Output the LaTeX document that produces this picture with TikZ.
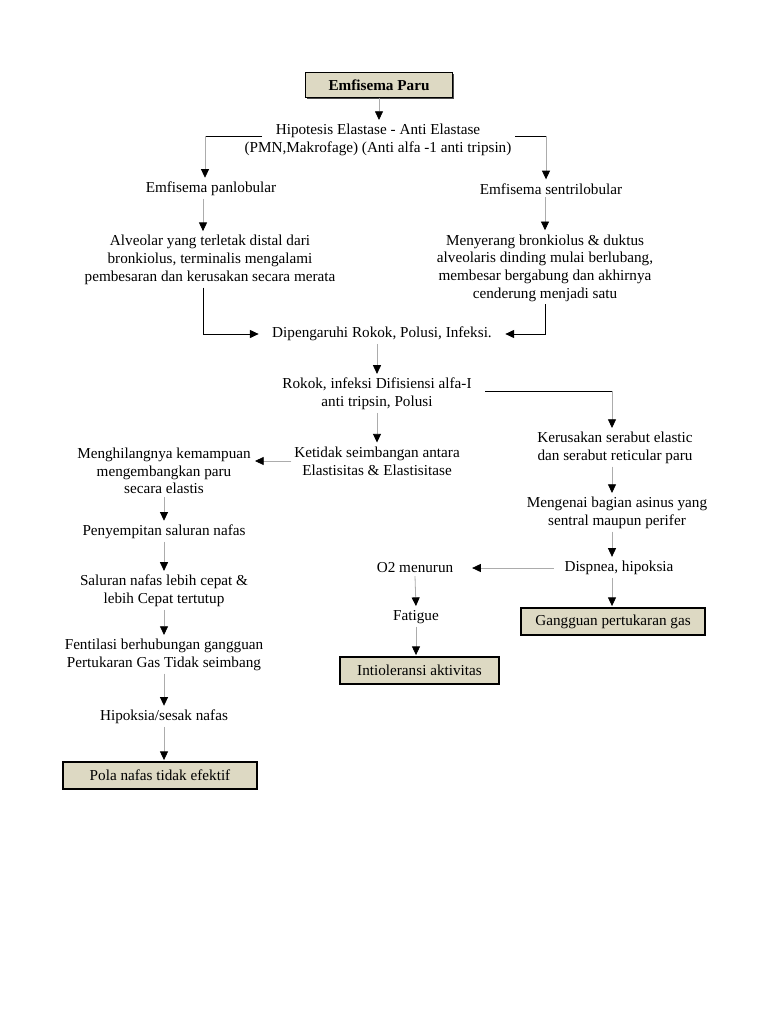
\documentclass[tikz,border=0pt]{standalone}
\usepackage{fontspec}
\setmainfont{Liberation Serif}
\usetikzlibrary{arrows.meta,shadows,calc}
\definecolor{beige}{RGB}{221,217,195}
\begin{document}
\begin{tikzpicture}[x=0.75pt,y=-0.75pt,
 txt/.style={font=\fontsize{11.4}{13.3}\selectfont, align=center, inner sep=2pt},
 boxn/.style={txt, draw=black, line width=0.9pt, fill=beige, inner sep=0pt,
   drop shadow={shadow xshift=0.8pt,shadow yshift=-0.8pt,fill=black!70,opacity=1}},
 arr/.style={draw=gray!65, line width=0.6pt, -{Triangle[black,length=6.5pt,width=6pt]}, shorten >=1pt},
 arrb/.style={arr, draw=black},
 ln/.style={draw=black, line width=0.6pt}]
\useasboundingbox[fill=white] (0,0) rectangle (768,1024);

% nodes
\node[boxn, minimum width=110.25pt, minimum height=18.75pt, font=\fontsize{11.4}{13.3}\selectfont\bfseries] (title) at (379,85) {Emfisema Paru};
\node[txt] (hip) at (378,140) {Hipotesis Elastase - Anti Elastase\\(PMN,Makrofage) (Anti alfa -1 anti tripsin)};
\node[txt] (panl) at (211,189) {Emfisema panlobular};
\node[txt] (sent) at (551,189) {Emfisema sentrilobular};
\node[txt] (alv) at (210,260) {Alveolar yang terletak distal dari\\bronkiolus, terminalis mengalami\\pembesaran dan kerusakan secara merata};
\node[txt] (meny) at (545,268) {Menyerang bronkiolus \& duktus\\alveolaris dinding mulai berlubang,\\membesar bergabung dan akhirnya\\cenderung menjadi satu};
\node[txt] (dip) at (382,334) {Dipengaruhi Rokok, Polusi, Infeksi.};
\node[txt] (rok) at (377,394) {Rokok, infeksi Difisiensi alfa-I\\anti tripsin, Polusi};
\node[txt] (ket) at (377,461) {Ketidak seimbangan antara\\Elastisitas \& Elastisitase};
\node[txt] (meng) at (164,471) {Menghilangnya kemampuan\\mengembangkan paru\\secara elastis};
\node[txt] (peny) at (164,532) {Penyempitan saluran nafas};
\node[txt] (sal) at (164,591) {Saluran nafas lebih cepat \&\\lebih Cepat tertutup};
\node[txt] (fen) at (164,655) {Fentilasi berhubungan gangguan\\Pertukaran Gas Tidak seimbang};
\node[txt] (hipo) at (164,717) {Hipoksia/sesak nafas};
\node[boxn, minimum width=145.5pt, minimum height=20.25pt] (pola) at (160,775.5) {Pola nafas tidak efektif};
\node[txt] (ker) at (615,448) {Kerusakan serabut elastic\\dan serabut reticular paru};
\node[txt] (menge) at (617,513) {Mengenai bagian asinus yang\\sentral maupun perifer};
\node[txt] (disp) at (619,568) {Dispnea, hipoksia};
\node[txt] (o2) at (415,568) {O2 menurun};
\node[boxn, minimum width=138pt, minimum height=20.25pt] (gang) at (613,621.5) {Gangguan pertukaran gas};
\node[txt] (fat) at (416,617) {Fatigue};
\node[boxn, minimum width=119.25pt, minimum height=20.25pt] (intio) at (419.5,670.5) {Intioleransi aktivitas};

% helper coordinates
\coordinate (hl) at (262,136);
\coordinate (hlc) at (205,136);
\coordinate (hr) at (515,136);
\coordinate (hrc) at (546,136);
\coordinate (lx) at (203,0);
\coordinate (rc) at (612,391);
\coordinate (rx) at (612,0);

% connectors
\draw[arr] (title.south) -- (title.south |- hip.north);
\draw[ln] (hl) -- (hlc);
\draw[arr] (hlc) -- (hlc |- panl.north);
\draw[ln] (hr) -- (hrc);
\draw[arr] (hrc) -- (hrc |- sent.north);
\draw[arr] (lx |- panl.south) -- (lx |- alv.north);
\draw[arr] (meny.north |- sent.south) -- (meny.north);
\draw[arrb, shorten >=8pt] (lx |- alv.south) |- (dip.west);
\draw[arrb, shorten >=8pt] (meny.south) |- (dip.east);
\draw[arr] (dip.south -| rok.north) -- (rok.north);
\draw[ln, shorten <=8pt] (rok.east |- rc) -- (rc);
\draw[arr] (rc) -- (rc |- ker.north);
\draw[arr] (rok.south) -- (ket.north);
\draw[arr] (ket.west) -- (ket.west -| meng.east);
\draw[arr] (meng.south) -- (peny.north);
\draw[arr] (peny.south) -- (sal.north);
\draw[arr] (sal.south) -- (fen.north);
\draw[arr] (fen.south) -- (hipo.north);
\draw[arr] (hipo.south) -- (hipo.south |- pola.north);
\draw[arr] (rx |- ker.south) -- (rx |- menge.north);
\draw[arr] (rx |- menge.south) -- (rx |- disp.north);
\draw[arr, shorten <=6pt, shorten >=12pt] (disp.west) -- (o2.east);
\draw[arr] (rx |- disp.south) -- (rx |- gang.north);
\draw[arr] (o2.south) -- (fat.north);
\draw[arr] (fat.south) -- (fat.south |- intio.north);
\end{tikzpicture}
\end{document}
